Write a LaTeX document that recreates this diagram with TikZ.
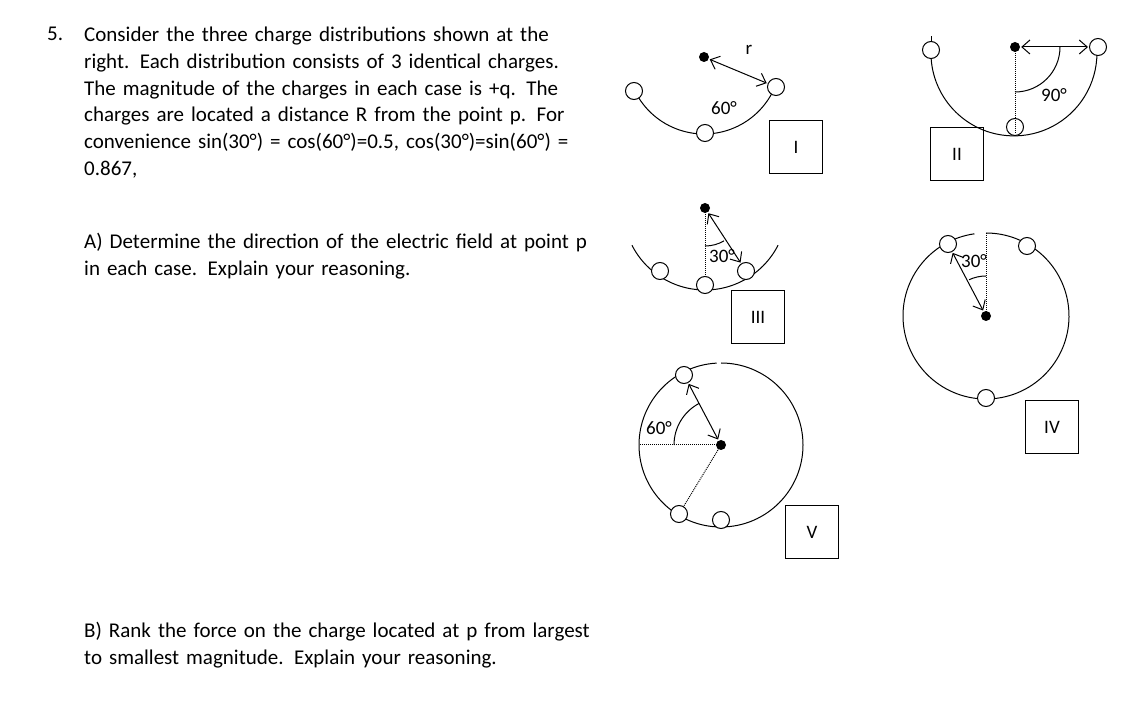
\documentclass[tikz,border=0pt]{standalone}
\usepackage{fontspec}
\setmainfont{Carlito}
\usetikzlibrary{arrows.meta}
\begin{document}
\begin{tikzpicture}[x=1pt,y=-1pt,
  chg/.style={circle,draw,fill=white,inner sep=0,minimum size=17pt,line width=1pt},
  pdot/.style={circle,fill=black,inner sep=0,minimum size=10pt},
  lab/.style={draw,line width=1pt,minimum width=53pt,minimum height=53pt,font=\fontsize{19}{22}\selectfont},
  dbl/.style={line width=1pt,{Straight Barb[length=8pt,width=14pt]}-{Straight Barb[length=8pt,width=14pt]},shorten <=1pt,shorten >=1pt},
  ln/.style={line width=1pt},
  dt/.style={densely dotted,line width=1pt},
  txt/.style={anchor=west,inner sep=0,font=\fontsize{21}{26.7}\selectfont},
  ang/.style={font=\fontsize{19}{20}\selectfont,inner sep=0}]
\useasboundingbox (0,0) rectangle (1128,708);
% text
\node[txt,anchor=north west] (n5) at (47,27) {5.};
\node[txt,anchor=north west,align=left,text width=540pt] (t1) at (84,27) {Consider the three charge distributions shown at the\\ right.  Each distribution consists of 3 identical charges.\\ The magnitude of the charges in each case is +q.  The\\ charges are located a distance R from the point p.  For\\ convenience sin(30°) = cos(60°)=0.5, cos(30°)=sin(60°) =\\ 0.867,};
\node[txt,anchor=north west,align=left,text width=540pt] (ta) at (84,233) {A) Determine the direction of the electric field at point p\\ in each case.  Explain your reasoning.};
\node[txt,anchor=north west,align=left,text width=540pt] (tb) at (84,622) {B) Rank the force on the charge located at p from largest\\ to smallest magnitude.  Explain your reasoning.};
% ---- I
\coordinate (c1) at (704,57);
\draw[ln] (c1) ++(-206:77) arc[start angle=-206,end angle=-337,radius=77];
\node[pdot] (p1) at (c1) {};
\node[chg] (a1) at (634,91) {};
\node[chg] (b1) at (705,133) {};
\node[chg] (d1) at (776,87) {};
\draw[dbl] (p1) -- (d1);
\node[ang] (r1) at (749,50) {r};
\node[ang] (g1) at (724,108) {60°};
\node[lab] (L1) at (796,147) {I};
% ---- II
\coordinate (c2) at (1015,47);
\draw[ln] (931,50) arc[start angle=-178,end angle=-360,radius=83];
\draw[ln] (931,41) -- (931,36);
\draw[dt] (c2) -- (1015,127);
\draw[ln] (1015,92) arc[start angle=-270,end angle=-360,radius=45];
\node[pdot] (p2) at (c2) {};
\node[chg] (a2) at (931,50) {};
\node[chg] (b2) at (1015,127) {};
\node[chg] (d2) at (1098,47) {};
\draw[dt] (1015,120) -- (1015,134);
\draw[dbl] (p2) -- (d2);
\node[ang] (g2) at (1054,95) {90°};
\node[lab] (L2) at (957,154) {II};
% ---- III
\coordinate (c3) at (705,208);
\draw[ln] (c3) ++(-207:82) arc[start angle=-207,end angle=-333,radius=82];
\draw[dt] (c3) -- (705,276);
\draw[ln] (705,246) arc[start angle=-270,end angle=-300,radius=38];
\node[pdot] (p3) at (c3) {};
\node[chg] (a3) at (660,271) {};
\node[chg] (b3) at (705,285) {};
\node[chg] (d3) at (746,271) {};
\draw[dbl] (p3) -- (d3);
\node[ang] (g3) at (722,256) {30°};
\node[lab] (L3) at (758,317) {III};
% ---- IV
\coordinate (c4) at (986,316);
\draw[ln] (c4) ++(-98:83) arc[start angle=-98,end angle=-450,radius=83];
\draw[dt] (c4) -- (986,233);
\draw[ln] (986,276) arc[start angle=-90,end angle=-115,radius=40];
\node[pdot] (p4) at (c4) {};
\node[chg] (a4) at (948,244) {};
\node[chg] (b4) at (1027,246) {};
\node[chg] (d4) at (986,398) {};
\draw[dbl] (p4) -- (a4);
\node[ang] (g4) at (974,261) {30°};
\node[lab] (L4) at (1052,427) {IV};
% ---- V
\coordinate (c5) at (721,445);
\draw[ln] (c5) ++(-93:82) arc[start angle=-93,end angle=-450,radius=82];
\draw[dt] (c5) -- (640,445);
\draw[dt] (c5) -- (679,514);
\draw[ln] (674,445) arc[start angle=-180,end angle=-118,radius=47];
\node[pdot] (p5) at (c5) {};
\node[chg] (a5) at (684,375) {};
\node[chg] (b5) at (679,514) {};
\node[chg] (d5) at (721,520) {};
\draw[dbl] (p5) -- (a5);
\node[ang] (g5) at (659,428) {60°};
\node[lab] (L5) at (812,532) {V};
\end{tikzpicture}
\end{document}
